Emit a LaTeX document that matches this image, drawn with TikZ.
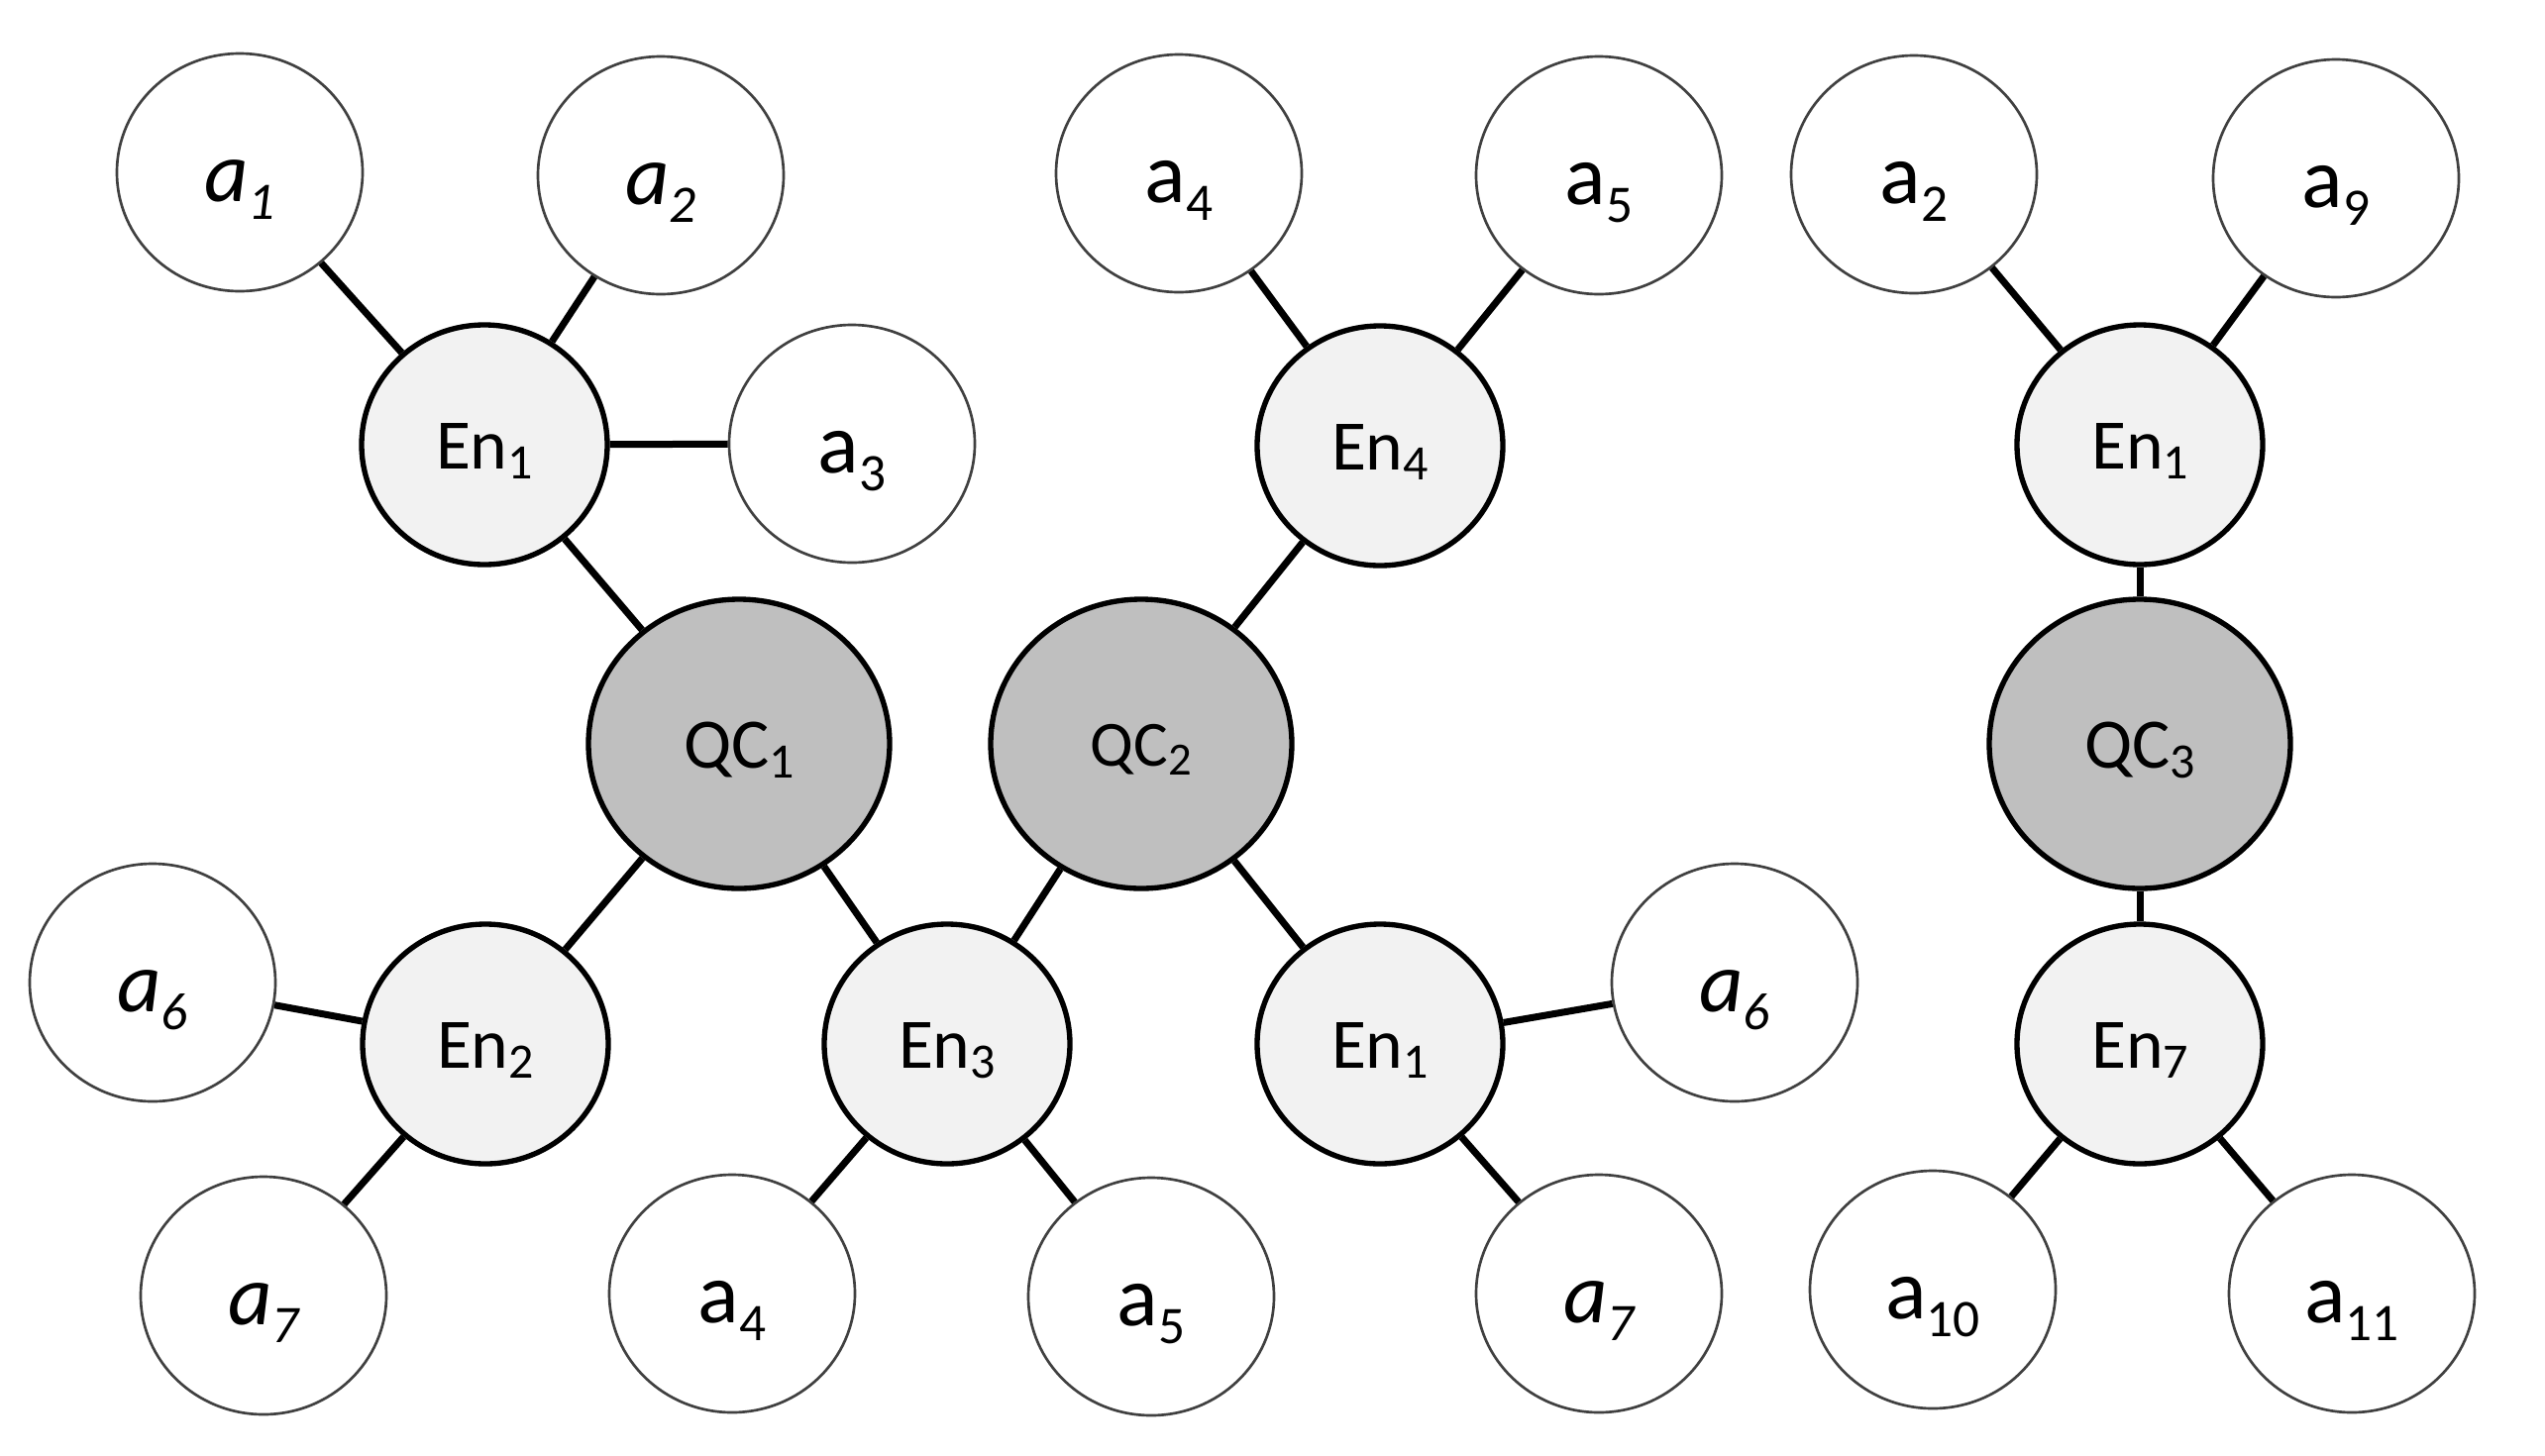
\documentclass[tikz,border=0pt]{standalone}
\usepackage{fontspec}
\setmainfont{Carlito}
\usetikzlibrary{shapes.geometric}
\definecolor{enfill}{HTML}{F2F2F2}
\definecolor{qcfill}{HTML}{BFBFBF}
\definecolor{leafline}{HTML}{404040}
\newcommand{\sa}[1]{\raisebox{-5.4pt}{\fontsize{16}{16}\selectfont #1}}
\newcommand{\se}[1]{\raisebox{-3pt}{\fontsize{15}{15}\selectfont #1}}
\newcommand{\sq}[1]{\raisebox{-2.8pt}{\fontsize{14}{14}\selectfont #1}}
\tikzset{
  leaf/.style={ellipse, draw=leafline, line width=0.8pt, fill=white,
    minimum width=74.4pt, minimum height=72pt, inner sep=0pt,
    font=\fontsize{26}{26}\selectfont, text height=24.75pt, text depth=7pt},
  leafit/.style={leaf, font=\fontsize{26}{26}\selectfont\itshape},
  ent/.style={ellipse, draw=black, line width=1.6pt, fill=enfill,
    minimum width=74.4pt, minimum height=72.6pt, inner sep=0pt,
    font=\fontsize{21.5}{21.5}\selectfont, text height=20.5pt, text depth=5.8pt},
  qc/.style={ent, fill=qcfill, minimum width=91.2pt, minimum height=87.6pt},
  qcsmall/.style={qc, font=\fontsize{19.5}{19.5}\selectfont, text height=18.56pt, text depth=5.25pt},
  link/.style={line width=2.1pt, draw=black}
}
\begin{document}
\begin{tikzpicture}[x=0.3pt, y=-0.3pt]
\useasboundingbox (0,0) rectangle (2569,1469);
% group 1 and 2
\node[leafit] (a1)  at (242,174)  {a\sa{1}};
\node[leafit] (a2)  at (667,177)  {a\sa{2}};
\node[ent]    (en1a) at (489,449) {En\se{1}};
\node[leaf]   (a3)  at (860,448)  {a\sa{3}};
\node[qc]     (qc1) at (746,751)  {QC\se{1}};
\node[qcsmall] (qc2) at (1152,751) {QC\sq{2}};
\node[ent]    (en4) at (1393,450) {En\se{4}};
\node[leaf]   (a4t) at (1190,175) {a\sa{4}};
\node[leaf]   (a5t) at (1614,177) {a\sa{5}};
\node[ent]    (en2) at (490,1054) {En\se{2}};
\node[leafit] (a6l) at (154,992)  {a\sa{6}};
\node[leafit] (a7l) at (266,1308) {a\sa{7}};
\node[ent]    (en3) at (956,1054) {En\se{3}};
\node[leaf]   (a4b) at (739,1306) {a\sa{4}};
\node[leaf]   (a5b) at (1162,1309) {a\sa{5}};
\node[ent]    (en1m) at (1393,1054) {En\se{1}};
\node[leafit] (a6r) at (1751,992) {a\sa{6}};
\node[leafit] (a7r) at (1614,1306) {a\sa{7}};
% group 3
\node[leaf]   (a2r) at (1932,176) {a\sa{2}};
\node[leaf]   (a9)  at (2358,180) {a\sa{9}};
\node[ent]    (en1r) at (2160,449) {En\se{1}};
\node[qc]     (qc3) at (2160,751) {QC\se{3}};
\node[ent]    (en7) at (2160,1054) {En\se{7}};
\node[leaf]   (a10) at (1951,1302) {a\sa{10}};
\node[leaf]   (a11) at (2374,1306) {a\sa{11}};
% connectors
\draw[link] (a1) -- (en1a);
\draw[link] (a2) -- (en1a);
\draw[link] (en1a) -- (a3);
\draw[link] (en1a) -- (qc1);
\draw[link] (qc1) -- (en2);
\draw[link] (qc1) -- (en3);
\draw[link] (qc2) -- (en3);
\draw[link] (qc2) -- (en4);
\draw[link] (qc2) -- (en1m);
\draw[link] (en4) -- (a4t);
\draw[link] (en4) -- (a5t);
\draw[link] (en2) -- (a6l);
\draw[link] (en2) -- (a7l);
\draw[link] (en3) -- (a4b);
\draw[link] (en3) -- (a5b);
\draw[link] (en1m) -- (a6r);
\draw[link] (en1m) -- (a7r);
\draw[link] (a2r) -- (en1r);
\draw[link] (a9) -- (en1r);
\draw[link] (en1r) -- (qc3);
\draw[link] (qc3) -- (en7);
\draw[link] (en7) -- (a10);
\draw[link] (en7) -- (a11);
\end{tikzpicture}
\end{document}
